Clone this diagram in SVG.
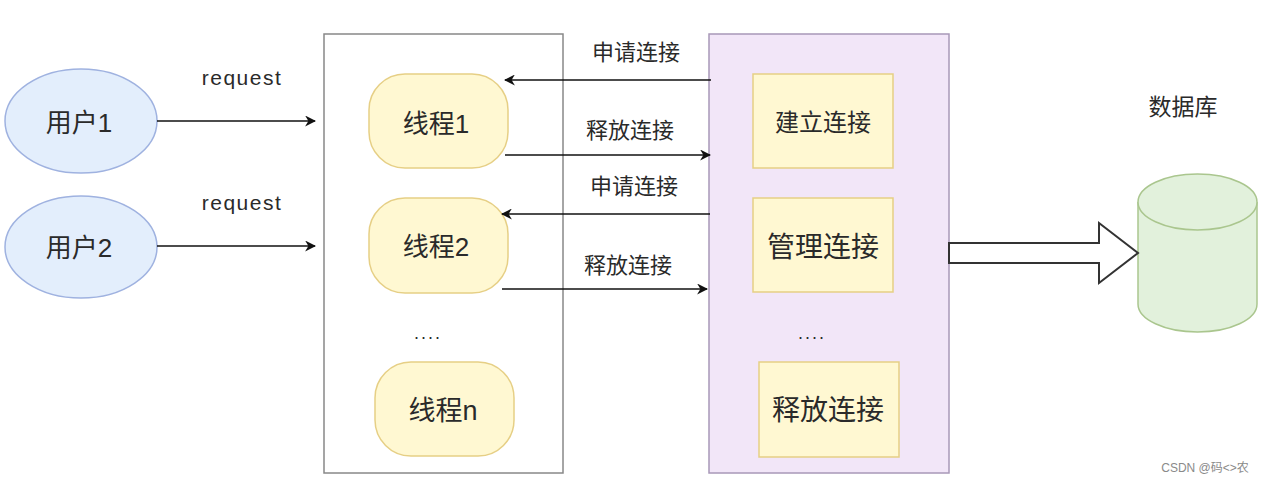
<svg xmlns="http://www.w3.org/2000/svg" width="1269" height="485" viewBox="0 0 1269 485">
<defs>
<style>
text{font-family:"Liberation Sans","Noto Sans CJK SC",sans-serif;fill:#2a2a2a;text-anchor:middle;dominant-baseline:central}
.user{fill:#e3eefc;stroke:#9fb2e0;stroke-width:1.5}
.thread{fill:#fff8d2;stroke:#e6cf85;stroke-width:1.5}
.box{fill:#fff8d2;stroke:#e6cf85;stroke-width:1.5}
.line{stroke:#111;stroke-width:1.5;fill:none;marker-end:url(#ah)}
.lbl{font-size:22px}
.req{font-size:21px;letter-spacing:1.5px}
</style>
<marker id="ah" viewBox="0 0 10 10" refX="9" refY="5" markerWidth="11" markerHeight="11" markerUnits="userSpaceOnUse" orient="auto">
<path d="M0,0 L10,5 L0,10 L3,5 z" fill="#111"/>
</marker>
</defs>
<rect width="1269" height="485" fill="#fff"/>

<g id="threadPool">
<rect x="324" y="34" width="239" height="439" fill="#fff" stroke="#888" stroke-width="1.5"/>
<text x="428" y="333" font-size="18" letter-spacing="2">....</text>
</g>
<g id="connPool">
<rect x="709" y="34" width="240" height="439" fill="#f2e6f8" stroke="#a898b8" stroke-width="1.5"/>
<text x="812" y="333" font-size="18" letter-spacing="2">....</text>
</g>

<g id="user1"><ellipse class="user" cx="81" cy="121" rx="76" ry="52"/><text x="79" y="123" font-size="26">用户1</text></g>
<g id="user2"><ellipse class="user" cx="81" cy="247" rx="76" ry="51"/><text x="79" y="248" font-size="26">用户2</text></g>

<g id="thread1"><rect class="thread" x="369" y="74" width="139" height="94" rx="36"/><text x="436" y="124" font-size="26">线程1</text></g>
<g id="thread2"><rect class="thread" x="369" y="198" width="139" height="95" rx="36"/><text x="436" y="247" font-size="26">线程2</text></g>
<g id="threadn"><rect class="thread" x="375" y="362" width="139" height="94" rx="36"/><text x="443" y="411" font-size="27">线程n</text></g>

<g id="create"><rect class="box" x="753" y="74" width="140" height="94"/><text x="823" y="122" font-size="24">建立连接</text></g>
<g id="manage"><rect class="box" x="753" y="198" width="140" height="94"/><text x="823" y="247" font-size="28">管理连接</text></g>
<g id="release"><rect class="box" x="759" y="362" width="140" height="95"/><text x="828" y="410" font-size="28">释放连接</text></g>

<g id="database">
<path d="M1138,202 L1138,304 A59.5,28 0 0 0 1257,304 L1257,202" fill="#e2f1dc" stroke="#aac68e" stroke-width="1.5"/>
<ellipse cx="1197.5" cy="202" rx="59.5" ry="28" fill="#e2f1dc" stroke="#aac68e" stroke-width="1.5"/>
<text x="1183" y="107" font-size="23">数据库</text>
</g>

<g id="connectors">
<line class="line" x1="157" y1="121" x2="315" y2="121"/>
<text class="req" x="242" y="77">request</text>
<line class="line" x1="157" y1="246" x2="315" y2="246"/>
<text class="req" x="242" y="202">request</text>

<line class="line" x1="711" y1="80" x2="505" y2="80"/>
<text class="lbl" x="636" y="52">申请连接</text>
<line class="line" x1="505" y1="155" x2="710" y2="155"/>
<text class="lbl" x="630" y="130">释放连接</text>
<line class="line" x1="710" y1="214" x2="502" y2="214"/>
<text class="lbl" x="634" y="186">申请连接</text>
<line class="line" x1="502" y1="289" x2="707" y2="289"/>
<text class="lbl" x="628" y="265">释放连接</text>

<path d="M949,243 L1099,243 L1099,223 L1138,253 L1099,283 L1099,263 L949,263 Z" fill="#fff" stroke="#333" stroke-width="2"/>
</g>

<text x="1205" y="468" font-size="12" style="fill:#8a8a8a">CSDN @码&lt;&gt;农</text>
</svg>
